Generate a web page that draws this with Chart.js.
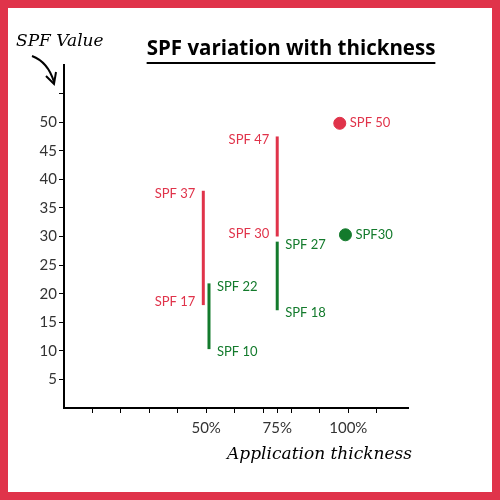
<!DOCTYPE html>
<html><head><meta charset="utf-8">
<script src="https://cdn.jsdelivr.net/npm/chart.js@4"></script>
<style>html,body{margin:0;padding:0;background:#fff}#w{width:500px;height:500px;position:relative}</style>
</head><body><div id="w"><canvas id="c"></canvas></div>
<script>
const yTicks=[5,10,15,20,25,30,35,40,45,50];
const xTicks=[50,75,100];
const redSegments=[{x:49,y1:18,y2:38,top:'SPF 37',bottom:'SPF 17'},{x:75,y1:30,y2:47.5,top:'SPF 47',bottom:'SPF 30'}];
const greenSegments=[{x:51,y1:10.3,y2:21.8,top:'SPF 22',bottom:'SPF 10'},{x:75,y1:17.1,y2:29.1,top:'SPF 27',bottom:'SPF 18'}];
const redPoint={x:97,y:49.8,label:'SPF 50'};
const greenPoint={x:99,y:30.3,label:'SPF30'};
const RED='#e0334a',GREEN='#137a2c';
const ds=[];
redSegments.forEach(s=>ds.push({data:[{x:s.x,y:s.y1},{x:s.x,y:s.y2}],showLine:true,borderColor:RED,borderWidth:3,pointRadius:0}));
greenSegments.forEach(s=>ds.push({data:[{x:s.x,y:s.y1},{x:s.x,y:s.y2}],showLine:true,borderColor:GREEN,borderWidth:3,pointRadius:0}));
ds.push({data:[{x:redPoint.x,y:redPoint.y}],backgroundColor:RED,borderColor:RED,pointRadius:6});
ds.push({data:[{x:greenPoint.x,y:greenPoint.y}],backgroundColor:GREEN,borderColor:GREEN,pointRadius:6});
const deco={id:'deco',afterDraw(ch){
 const c=ch.ctx,xs=ch.scales.x,ys=ch.scales.y;
 c.save();
 c.strokeStyle=RED;c.lineWidth=8;c.strokeRect(4,4,492,492);
 c.font='13px Lato';c.textBaseline='middle';
 const side=(segs,col,leftLbl)=>segs.forEach(s=>{c.fillStyle=col;const px=xs.getPixelForValue(s.x);
  if(leftLbl){c.textAlign='right';c.fillText(s.top,px-8,ys.getPixelForValue(s.y2)+3);c.fillText(s.bottom,px-8,ys.getPixelForValue(s.y1)-3);}
  else{c.textAlign='left';c.fillText(s.top,px+8,ys.getPixelForValue(s.y2)+3);c.fillText(s.bottom,px+8,ys.getPixelForValue(s.y1)+3);}});
 side(redSegments,RED,true);side(greenSegments,GREEN,false);
 c.textAlign='left';c.fillStyle=RED;c.fillText(redPoint.label,xs.getPixelForValue(redPoint.x)+10,ys.getPixelForValue(redPoint.y));
 c.fillStyle=GREEN;c.fillText(greenPoint.label,xs.getPixelForValue(greenPoint.x)+10,ys.getPixelForValue(greenPoint.y));
 c.fillStyle='#000';c.font='bold 20.5px "Open Sans"';c.textAlign='center';
 c.fillText('SPF variation with thickness',291,49);
 const tw=c.measureText('SPF variation with thickness').width;
 c.fillRect(291-tw/2,62,tw,2);
 c.font='italic 17px "DejaVu Serif"';c.textAlign='left';c.fillText('SPF Value',16,42);
 c.textAlign='right';c.fillText('Application thickness',412,455);
 c.lineWidth=2;c.strokeStyle='#000';c.beginPath();c.moveTo(32,56);c.quadraticCurveTo(48,62,54,82);c.stroke();
 c.beginPath();c.moveTo(46,76);c.lineTo(54,84);c.lineTo(56,72);c.stroke();
 c.restore();}};
new Chart(document.getElementById('c'),{type:'scatter',data:{datasets:ds},plugins:[deco],
 options:{responsive:true,maintainAspectRatio:false,animation:false,
 layout:{padding:{top:65,right:92,left:0,bottom:0}},
 plugins:{legend:{display:false},tooltip:{enabled:false}},
 scales:{
  x:{min:0,max:121,grid:{drawOnChartArea:false,tickLength:5,color:'#000'},border:{color:'#000',width:2},
   afterBuildTicks:a=>{a.ticks=[10,20,30,40,50,60,70,75,80,90,100,110].map(v=>({value:v}))},
   ticks:{autoSkip:false,maxRotation:0,color:'#333',font:{size:15,family:'Lato'},padding:6,callback:v=>xTicks.includes(v)?v+'%':''},
   afterFit:s=>{s.height=92}},
  y:{min:0,max:60,grid:{drawOnChartArea:false,tickLength:5,color:'#000'},border:{color:'#000',width:2},
   afterBuildTicks:a=>{a.ticks=[5,10,15,20,25,30,35,40,45,50,55].map(v=>({value:v}))},
   ticks:{autoSkip:false,color:'#333',font:{size:15,family:'Lato'},padding:2,callback:v=>yTicks.includes(v)?String(v):''},
   afterFit:s=>{s.height=s.height;s.width=64}}}}});
</script></body></html>
